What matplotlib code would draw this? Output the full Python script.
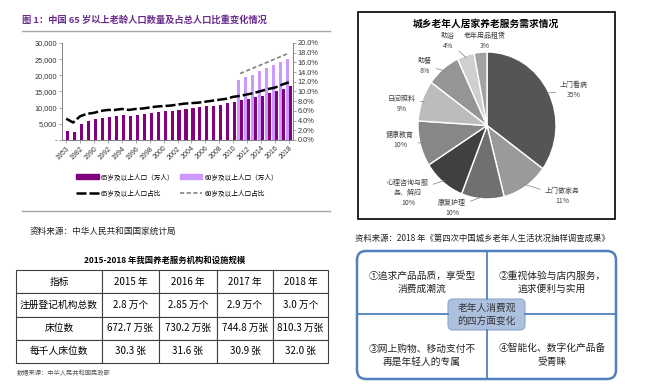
import numpy as np
import matplotlib.pyplot as plt
from matplotlib.patches import Patch, FancyBboxPatch, Rectangle
from matplotlib.lines import Line2D
from matplotlib.ticker import FuncFormatter

plt.rcParams['font.family'] = ['Noto Sans CJK SC', 'DejaVu Sans']

W, H = 660, 391

#%% data: population chart
years = ['1953', '1964', '1982', '1987'] + [str(y) for y in range(1990, 2019)]
pop65 = [2632, 2504, 4991, 5968, 6368, 6938, 7218, 7289, 7622, 7510, 7833, 8085,
         8359, 8679, 8821, 9062, 9377, 9692, 9857, 10055, 10419, 10636, 10956,
         11307, 11894, 12288, 12714, 13161, 13755, 14386, 15003, 15831, 16658]
ratio65 = [4.4, 3.6, 4.9, 5.4, 5.6, 6.0, 6.2, 6.2, 6.4, 6.2, 6.4, 6.5, 6.7, 6.9,
           7.0, 7.1, 7.3, 7.5, 7.6, 7.7, 7.9, 8.1, 8.3, 8.5, 8.9, 9.1, 9.4, 9.7,
           10.1, 10.5, 10.8, 11.4, 11.9]
years60 = ['2011', '2012', '2013', '2014', '2015', '2016', '2017', '2018']
pop60 = [18499, 19390, 20243, 21242, 22200, 23086, 24090, 24949]
ratio60 = [13.7, 14.3, 14.9, 15.5, 16.1, 16.7, 17.3, 17.9]
legend_labels = ['65岁及以上人口（万人）', '65岁及以上人口占比',
                 '60岁及以上人口（万人）', '60岁及以上人口占比']

#%% data: table
table_cols = ['指标', '2015 年', '2016 年', '2017 年', '2018 年']
table_rows = [['注册登记机构总数', '2.8 万个', '2.85 万个', '2.9 万个', '3.0 万个'],
              ['床位数', '672.7 万张', '730.2 万张', '744.8 万张', '810.3 万张'],
              ['每千人床位数', '30.3 张', '31.6 张', '30.9 张', '32.0 张']]

#%% data: pie
pie_labels = ['上门看病', '上门做家务', '康复护理', '心理咨询与服\n务、解闷', '健康教育',
              '日间照料', '助餐', '助浴', '老年用品租赁']
pie_share = [35, 11, 10, 10, 10, 9, 8, 4, 3]
pie_colors = ['#555555', '#9a9a9a', '#707070', '#404040', '#878787',
              '#bcbcbc', '#959595', '#cfcfcf', '#a2a2a2']
pie_label_pos = [(574, 90), (562, 196), (452, 208), (408, 193), (400, 140),
                 (402, 104), (425, 66), (448, 41), (485, 41)]

#%% data: diagram
quad_texts = ['①追求产品品质，享受型\n消费成潮流', '②重视体验与店内服务，\n追求便利与实用',
              '③网上购物、移动支付不\n再是年轻人的专属', '④智能化、数字化产品备\n受青睐']
center_text = '老年人消费观\n的四方面变化'


def fbox(x0, y0, x1, y1):
    return [x0 / W, 1 - y1 / H, (x1 - x0) / W, (y1 - y0) / H]


fig = plt.figure(figsize=(W / 100, H / 100), dpi=100)
bg = fig.add_axes([0, 0, 1, 1])
bg.set_xlim(0, W)
bg.set_ylim(H, 0)
bg.axis('off')

#%% top-left: population chart
purple, lilac = '#800080', '#cc99ff'
bg.text(22, 20, '图 1：中国 65 岁以上老龄人口数量及占总人口比重变化情况', fontsize=6.7,
        weight='bold', color='#6a2c8e', va='center')
bg.plot([22, 330], [31, 31], color='#a6a6a6', lw=1)
bg.plot([22, 330], [211, 211], color='#a6a6a6', lw=1)
bg.text(30, 231, '资料来源：中华人民共和国国家统计局', fontsize=6.2, va='center', color='#222222')

x = np.arange(len(years))
i60 = [years.index(y) for y in years60]
ax = fig.add_axes(fbox(62, 43, 293, 140))
ax.bar(x + 0.22, pop65, width=0.45, color=purple)
ax.bar(x[i60] - 0.22, pop60, width=0.45, color=lilac)
ax.set_xlim(-0.6, len(years) - 0.4)
ax.set_ylim(0, 30000)
ax.set_yticks(range(0, 30001, 5000))
ax.yaxis.set_major_formatter(FuncFormatter(lambda v, p: '-' if v == 0 else f'{v:,.0f}'))
ax.set_xticks(x[::2])
ax.set_xticklabels(years[::2], rotation=45, ha='right', rotation_mode='anchor')

ax2 = ax.twinx()
ax2.plot(x, ratio65, color='black', lw=1.8, dashes=(4, 1.2))
ax2.plot(x[i60], ratio60, color='#808080', lw=1.2, dashes=(2.5, 1.5))
ax2.set_ylim(0, 20)
ax2.set_yticks(np.arange(0, 21, 2))
ax2.yaxis.set_major_formatter(FuncFormatter(lambda v, p: f'{v:.1f}%'))

for a in (ax, ax2):
    a.spines['top'].set_visible(False)
    for s in a.spines.values():
        s.set_color('#808080')
        s.set_linewidth(0.6)
    a.tick_params(length=2, width=0.5, color='#808080', labelsize=5.3, pad=1.5,
                  labelcolor='#333333')
    for t in a.get_yticklabels() + a.get_xticklabels():
        t.set_family(['Liberation Sans', 'DejaVu Sans'])
ax.tick_params(axis='x', labelsize=5)

handles = [Patch(color=purple), Line2D([], [], color='black', lw=1.8, dashes=(4, 1.2)),
           Patch(color=lilac), Line2D([], [], color='#808080', lw=1.2, dashes=(2.5, 1.5))]
fig.legend(handles, legend_labels, ncol=2, loc='upper left',
           bbox_to_anchor=(76 / W, 1 - 173 / H), frameon=False, fontsize=4.8,
           handlelength=3.4, columnspacing=0.8, labelspacing=1.3, borderpad=0,
           borderaxespad=0, handletextpad=0.3)

#%% bottom-left: table
bg.text(165, 260, '2015-2018 年我国养老服务机构和设施规模', fontsize=6, weight='bold',
        ha='center', va='center')
axt = fig.add_axes(fbox(16, 270, 328, 363))
axt.axis('off')
tb = axt.table(cellText=table_rows, colLabels=table_cols, cellLoc='center',
               bbox=[0, 0, 1, 1], colWidths=[86, 57, 58, 56, 55])
tb.auto_set_font_size(False)
tb.set_fontsize(7)
for cell in tb.get_celld().values():
    cell.set_edgecolor('#404040')
    cell.set_linewidth(0.8)
bg.text(17, 373, '数据来源：中华人民共和国民政部', fontsize=4.5, va='center', color='#555555')

#%% top-right: pie
bg.add_patch(Rectangle((358, 12), 257, 207, fill=False, edgecolor='black', lw=1.2))
bg.text(486, 24, '城乡老年人居家养老服务需求情况', fontsize=7, weight='bold',
        ha='center', va='center')
axp = fig.add_axes(fbox(418, 52, 556, 199))
wedges, _ = axp.pie(pie_share, colors=pie_colors, startangle=90, counterclock=False,
                    wedgeprops=dict(edgecolor='white', linewidth=1))
axp.set_aspect('auto')
axp.set_xlim(-1, 1)
axp.set_ylim(-1, 1)
for w in wedges:
    w.set_clip_on(False)
for w, lab, s, pos in zip(wedges, pie_labels, pie_share, pie_label_pos):
    th = np.deg2rad((w.theta1 + w.theta2) / 2)
    axp.annotate(f'{lab}\n{s}%', xy=(0.97 * np.cos(th), 0.97 * np.sin(th)), xytext=pos,
                 textcoords=bg.transData, ha='center', va='center', fontsize=5,
                 color='#404040', linespacing=1.3, annotation_clip=False,
                 arrowprops=dict(arrowstyle='-', color='#808080', lw=0.5,
                                 shrinkA=1, shrinkB=0))

#%% bottom-right: diagram
bg.text(355, 238, '资料来源：2018 年《第四次中国城乡老年人生活状况抽样调查成果》',
        fontsize=6, va='center', color='#222222')
blue = '#4f81bd'
bg.add_patch(FancyBboxPatch((357, 251), 259, 128, boxstyle='round,pad=0,rounding_size=9',
                            fill=False, edgecolor=blue, lw=1.8))
bg.plot([487, 487], [251, 299], color=blue, lw=1.3)
bg.plot([487, 487], [330, 379], color=blue, lw=1.3)
bg.plot([357, 448], [314, 314], color=blue, lw=1.3)
bg.plot([525, 616], [314, 314], color=blue, lw=1.3)
bg.add_patch(FancyBboxPatch((448, 299), 77, 31, boxstyle='round,pad=0,rounding_size=5',
                            facecolor='#adc0de', edgecolor='#8da7cf', lw=0.8))
bg.text(486.5, 314.5, center_text, fontsize=7, ha='center', va='center', linespacing=1.35,
        color='#333333')
for t, (cx, cy) in zip(quad_texts, [(422, 282), (552, 282), (422, 355), (552, 355)]):
    bg.text(cx, cy, t, fontsize=7, ha='center', va='center', linespacing=1.4,
            color='#222222')

fig.savefig('out.png', dpi=100)
